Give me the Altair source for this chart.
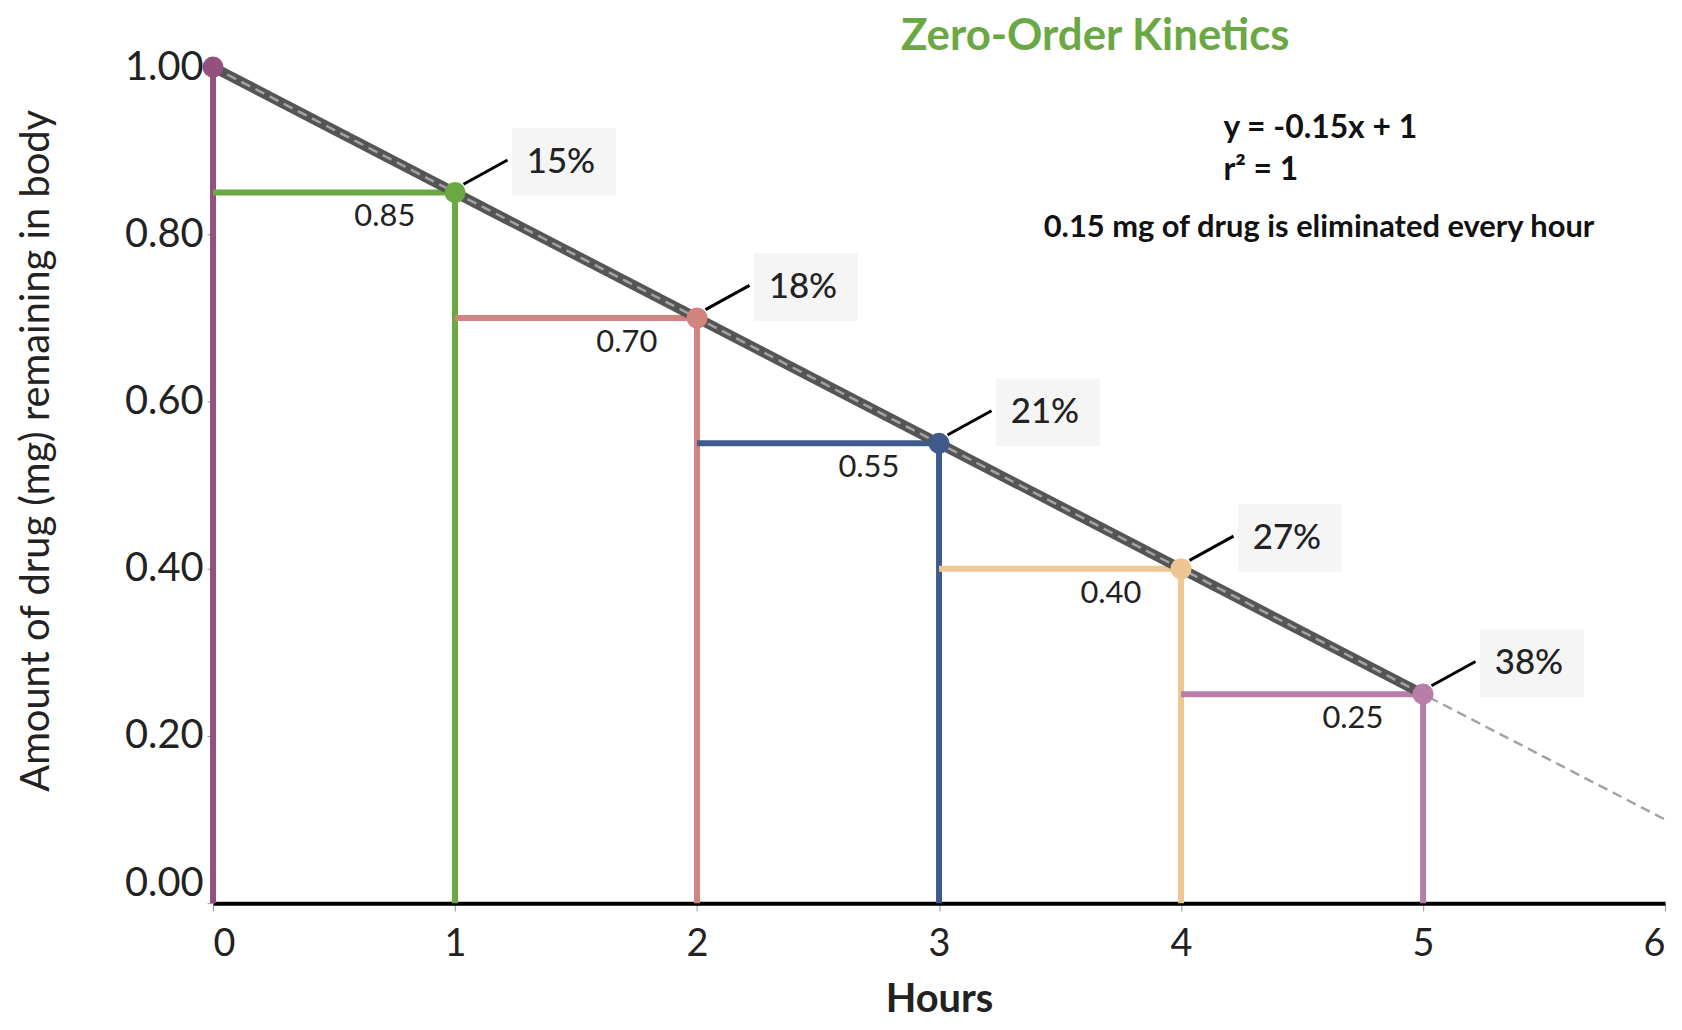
import altair as alt
import pandas as pd

# ---- data ----
hours = [0, 1, 2, 3, 4, 5]
amount = [1.00, 0.85, 0.70, 0.55, 0.40, 0.25]
colors = ["#94507f", "#6aa843", "#d4847f", "#3f5b8c", "#eec692", "#b97ea8"]
pct_labels = ["15%", "18%", "21%", "27%", "38%"]
value_labels = ["0.85", "0.70", "0.55", "0.40", "0.25"]
x_ticks = [0, 1, 2, 3, 4, 5, 6]
y_ticks = [0.0, 0.2, 0.4, 0.6, 0.8, 1.0]

FONT = "Lato"

pts = pd.DataFrame({"hour": hours, "amount": amount, "color": colors})
steps = pd.DataFrame({
    "hour": hours[1:],
    "prev": hours[:-1],
    "amount": amount[1:],
    "color": colors[1:],
    "pct": pct_labels,
    "val": value_labels,
})

xs = alt.Scale(domain=[0, 6], nice=False, zero=False)
ys = alt.Scale(domain=[0, 1], nice=False)

x_axis = alt.Axis(
    values=x_ticks, title="Hours", grid=False, format="d",
    domainColor="black", domainWidth=4, tickColor="#999999", tickSize=8,
    labelFont=FONT, labelFontSize=38, labelFontWeight="normal", labelColor="#222222",
    labelPadding=15, labelFlush=True,
    titleFont=FONT, titleFontSize=40, titleFontWeight="bold", titleColor="#222222",
    titlePadding=16,
)
y_axis = alt.Axis(
    values=y_ticks, format=".2f", title="Amount of drug (mg) remaining in body",
    grid=False, domain=False, tickColor="#999999", tickSize=6,
    labelFont=FONT, labelFontSize=40, labelFontWeight="normal", labelColor="#222222",
    labelPadding=4, labelFlush=False,
    labelBaseline={"condition": {"test": "datum.value == 0", "value": "bottom"}, "value": "middle"},
    titleFont=FONT, titleFontSize=40, titleFontWeight="normal", titleColor="#222222",
    titleX=-177, titleY=385, titleBaseline="middle",
)

base_pts = alt.Chart(pts)
base_steps = alt.Chart(steps)

vert = base_pts.mark_rule(strokeWidth=6).encode(
    x=alt.X("hour:Q", scale=xs, axis=x_axis),
    y=alt.Y("amount:Q", scale=ys, axis=y_axis),
    y2=alt.datum(0),
    color=alt.Color("color:N", scale=None),
)

horiz = base_steps.mark_rule(strokeWidth=6).encode(
    x=alt.X("prev:Q", scale=xs),
    x2="hour:Q",
    y=alt.Y("amount:Q", scale=ys),
    color=alt.Color("color:N", scale=None),
)

fit_thick = base_pts.transform_regression(
    "hour", "amount", extent=[0, 5]
).mark_line(color="#555555", strokeWidth=10).encode(
    x=alt.X("hour:Q", scale=xs), y=alt.Y("amount:Q", scale=ys)
)

fit_dash = base_pts.transform_regression(
    "hour", "amount", extent=[0, 6]
).mark_line(color="#a3a3a3", strokeWidth=2.5, strokeDash=[10, 6]).encode(
    x=alt.X("hour:Q", scale=xs), y=alt.Y("amount:Q", scale=ys)
)

dots = base_pts.mark_circle(size=450, opacity=1).encode(
    x=alt.X("hour:Q", scale=xs),
    y=alt.Y("amount:Q", scale=ys),
    color=alt.Color("color:N", scale=None),
)

connectors = base_steps.transform_calculate(
    x1="datum.hour + 0.035", y1="datum.amount + 0.01",
    x2="datum.hour + 0.217", y2="datum.amount + 0.039",
).mark_rule(color="black", strokeWidth=3).encode(
    x=alt.X("x1:Q", scale=xs), y=alt.Y("y1:Q", scale=ys),
    x2="x2:Q", y2="y2:Q",
)

label_pos = base_steps.transform_calculate(
    lx="datum.hour + 0.45", ly="datum.amount + 0.037"
)

boxes = label_pos.mark_point(
    shape="M-1.04,-0.68L1.04,-0.68L1.04,0.68L-1.04,0.68Z",
    size=10000, filled=True, color="#f5f5f5", opacity=1, strokeWidth=0,
).encode(x=alt.X("lx:Q", scale=xs), y=alt.Y("ly:Q", scale=ys))

pct_text = label_pos.mark_text(
    font=FONT, fontSize=35, color="#222222", fontWeight=500, dx=-3
).encode(x=alt.X("lx:Q", scale=xs), y=alt.Y("ly:Q", scale=ys), text="pct:N")

val_text = base_steps.transform_calculate(
    vx="datum.hour - 0.29"
).mark_text(font=FONT, fontSize=31, color="#222222", dy=25).encode(
    x=alt.X("vx:Q", scale=xs), y=alt.Y("amount:Q", scale=ys), text="val:N"
)

ann = pd.DataFrame({
    "x": [4.175, 4.175],
    "y": [0.927, 0.877],
    "t": ["y = -0.15x + 1", "r² = 1"],
})
eq_text = alt.Chart(ann).mark_text(
    font=FONT, fontSize=32, fontWeight="bold", color="#111111", align="left"
).encode(x=alt.X("x:Q", scale=xs), y=alt.Y("y:Q", scale=ys), text="t:N")

note = pd.DataFrame({"x": [4.57], "y": [0.808], "t": ["0.15 mg of drug is eliminated every hour"]})
note_text = alt.Chart(note).mark_text(
    font=FONT, fontSize=31, fontWeight="bold", color="#111111", align="center"
).encode(x=alt.X("x:Q", scale=xs), y=alt.Y("y:Q", scale=ys), text="t:N")

chart = alt.layer(
    vert, horiz, fit_thick, fit_dash, dots, connectors, boxes, pct_text, val_text,
    eq_text, note_text
).properties(
    width=1459,
    height=840,
    background="white",
    autosize=alt.AutoSizeParams(type="none"),
    padding={"left": 206, "top": 57, "right": 9, "bottom": 120},
    title=alt.Title(
        "Zero-Order Kinetics", font=FONT, fontSize=44, fontWeight="bold",
        color="#6aa843", anchor="middle", dx=157, offset=-12,
    ),
).configure_view(strokeWidth=0, stroke="transparent")

chart.save("out.html", embed_options={"renderer": "svg", "actions": False})
